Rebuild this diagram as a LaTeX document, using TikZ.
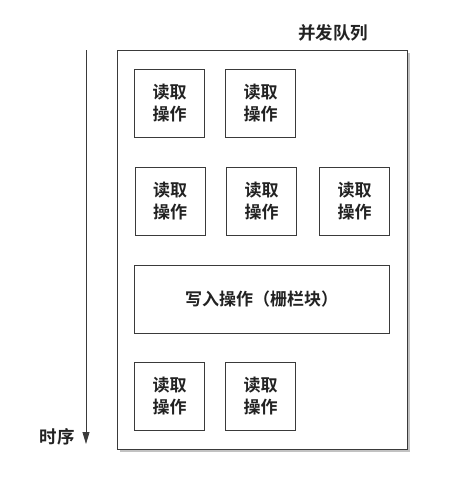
\documentclass[tikz,border=0pt]{standalone}
\usepackage{fontspec}
\setmainfont{Noto Sans CJK SC}[BoldFont={Noto Sans CJK SC Bold}]
\usetikzlibrary{arrows.meta,shadows}
\definecolor{ln}{HTML}{3A3A3A}
\definecolor{tx}{HTML}{222222}
\tikzset{
  readbox/.style={draw=ln,line width=0.9pt,minimum width=70pt,minimum height=68pt,inner sep=0pt,align=center,font=\fontsize{17}{22}\selectfont\bfseries,text=tx},
  writebox/.style={draw=ln,line width=0.9pt,minimum width=255pt,minimum height=68pt,inner sep=0pt,font=\fontsize{17}{22}\selectfont\bfseries,text=tx},
  lbl/.style={font=\fontsize{17.5}{20}\selectfont\bfseries,text=tx,inner sep=0pt},
}
\begin{document}
\begin{tikzpicture}[x=1pt,y=-1pt]
\useasboundingbox (0,0) rectangle (474,482);
% outer queue box
\node[draw=ln,line width=0.9pt,fill=white,minimum width=290pt,minimum height=399pt,inner sep=0pt,
      drop shadow={shadow xshift=2.5pt,shadow yshift=-2.5pt,opacity=0.6,fill=gray!80}] (queue) at (262,249.5) {};
\node[lbl] (qlabel) at (333,33) {并发队列};
% timeline
\coordinate (t0) at (86,50);
\coordinate (t1) at (86,444);
\draw[ln,line width=0.8pt,-{Triangle[length=12pt,width=7pt]}] (t0) -- (t1);
\node[lbl] (tlabel) at (57,437) {时序};
% row 1
\node[readbox] (r11) at (169.5,103) {读取\\操作};
\node[readbox] (r12) at (260.5,103) {读取\\操作};
% row 2
\node[readbox] (r21) at (170,201.5) {读取\\操作};
\node[readbox] (r22) at (261.5,201.5) {读取\\操作};
\node[readbox] (r23) at (354.5,201.5) {读取\\操作};
% write barrier
\node[writebox] (w) at (261.5,299) {写入操作（栅栏块）};
% row 4
\node[readbox] (r41) at (169.5,396.5) {读取\\操作};
\node[readbox] (r42) at (260.5,396.5) {读取\\操作};
\end{tikzpicture}
\end{document}
